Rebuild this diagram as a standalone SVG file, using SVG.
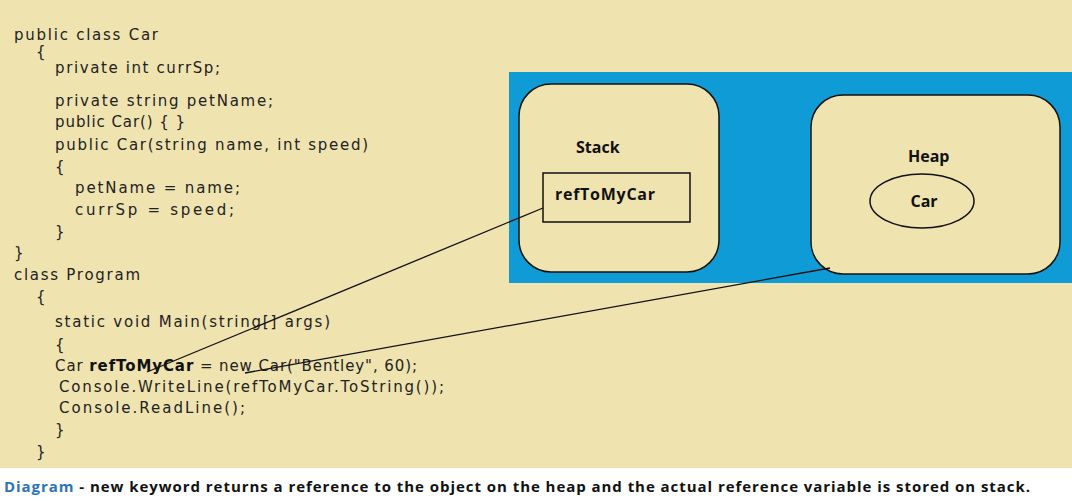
<svg xmlns="http://www.w3.org/2000/svg" width="1072" height="504" viewBox="0 0 1072 504">
<style>
.c{font-family:"DejaVu Sans",sans-serif;font-size:15px;fill:#222}
.t{font-weight:bold;fill:#111}
.b{font-family:"Open Sans","DejaVu Sans",sans-serif;font-size:16px;font-weight:bold;fill:#111}
.box{fill:#EFE3B0;stroke:#111;stroke-width:1.5}
</style>
<rect width="1072" height="468" fill="#EFE3B0"/>
<rect y="468" width="1072" height="36" fill="#fff"/>
<g id="code">
<text class="c" x="14" y="40" textLength="144">public class Car</text>
<text class="c" x="36" y="57">{</text>
<text class="c" x="55" y="73" textLength="165">private int currSp;</text>
<text class="c" x="55" y="106" textLength="218">private string petName;</text>
<text class="c" x="55" y="127" textLength="130">public Car() { }</text>
<text class="c" x="55" y="150" textLength="313">public Car(string name, int speed)</text>
<text class="c" x="55" y="172">{</text>
<text class="c" x="75" y="193" textLength="165">petName = name;</text>
<text class="c" x="75" y="215" textLength="159">currSp = speed;</text>
<text class="c" x="55" y="237">}</text>
<text class="c" x="14" y="258">}</text>
<text class="c" x="14" y="280" textLength="126">class Program</text>
<text class="c" x="36" y="302">{</text>
<text class="c" x="55" y="327" textLength="275">static void Main(string[] args)</text>
<text class="c" x="55" y="350">{</text>
<text class="c" x="55" y="371" textLength="362">Car <tspan class="t">refToMyCar</tspan> = new Car("Bentley", 60);</text>
<text class="c" x="59" y="392" textLength="385">Console.WriteLine(refToMyCar.ToString());</text>
<text class="c" x="59" y="413" textLength="186">Console.ReadLine();</text>
<text class="c" x="55" y="435">}</text>
<text class="c" x="36" y="457">}</text>
</g>
<rect x="509" y="72" width="563" height="211" fill="#0E9BD6"/>
<g id="stack">
<rect class="box" x="519" y="84" width="200" height="188" rx="32"/>
<text class="b" x="576" y="153">Stack</text>
</g>
<g id="ref">
<rect class="box" x="543" y="173" width="147" height="49"/>
<text class="b" x="555" y="200" textLength="100">refToMyCar</text>
</g>
<g id="heap">
<rect class="box" x="811" y="95" width="249" height="179" rx="32"/>
<text class="b" x="908" y="162">Heap</text>
</g>
<g id="car">
<ellipse class="box" cx="922" cy="201" rx="52" ry="27"/>
<text class="b" x="924" y="207" text-anchor="middle">Car</text>
</g>
<g id="connectors" stroke="#111" stroke-width="1.3" fill="none">
<line x1="147" y1="372" x2="543" y2="208"/>
<line x1="245" y1="373" x2="830" y2="268"/>
</g>
<text x="4" y="492" textLength="1026" font-family="Open Sans,DejaVu Sans,sans-serif" font-size="15" font-weight="bold" fill="#111"><tspan fill="#2E74B5">Diagram</tspan> - new keyword returns a reference to the object on the heap and the actual reference variable is stored on stack.</text>
</svg>
